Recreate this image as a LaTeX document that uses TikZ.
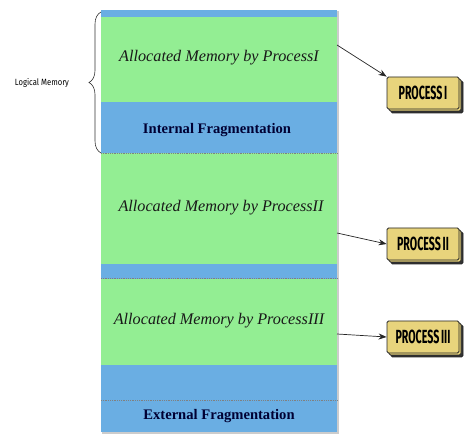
\documentclass[tikz,border=0pt]{standalone}
\usepackage{fontspec}
\setmainfont{Liberation Serif}
\newfontfamily\procfont{Fira Sans}
\newfontfamily\labfont{Fira Sans}
\usetikzlibrary{decorations.pathreplacing,arrows.meta}
\definecolor{memgreen}{HTML}{93EE93}
\definecolor{memblue}{HTML}{6AAEE3}
\definecolor{procfill}{HTML}{E8D47C}
\tikzset{
  alloc/.style={font=\itshape\fontsize{16.2}{19}\selectfont, text=black!90},
  frag/.style={font=\bfseries\fontsize{14.6}{17}\selectfont, text=black!80!blue},
  sep/.style={densely dotted, draw=black!50, line width=0.8pt},
  procbox/.style={draw=black!85, line width=0.8pt, fill=procfill, rounded corners=1.5pt,
     minimum width=72pt, minimum height=32pt, inner sep=0pt},
  procback/.style={draw=black!85, line width=0.8pt, fill=procfill, rounded corners=1.5pt,
     minimum width=72pt, minimum height=32pt},
  arr/.style={-{Stealth[length=8pt,width=6pt]}, line width=0.7pt, draw=black!85}
}
\newcommand{\proclabel}[1]{\scalebox{0.56}[1]{\procfont\bfseries\fontsize{19}{21}\selectfont #1}}
\begin{document}
\begin{tikzpicture}[x=1pt,y=-1pt]
\useasboundingbox (0,0) rectangle (474,446);
\fill[white] (0,0) rectangle (474,446);
% shadow
\fill[black!20] (102,11) rectangle (338.5,433.5);
% column
\fill[memblue] (101,10) rectangle (337,17);
\fill[memgreen] (101,17) rectangle (337,102);
\fill[memblue] (101,102) rectangle (337,153);
\fill[memgreen] (101,153) rectangle (337,264);
\fill[memblue] (101,264) rectangle (337,279);
\fill[memgreen] (101,279) rectangle (337,365);
\fill[memblue] (101,365) rectangle (337,432);
\coordinate (s1a) at (101,153); \coordinate (s1b) at (337,153);
\coordinate (s2a) at (101,278); \coordinate (s2b) at (337,278);
\coordinate (s3a) at (101,400); \coordinate (s3b) at (337,400);
\draw[sep] (s1a) -- (s1b);
\draw[sep] (s2a) -- (s2b);
\draw[sep] (s3a) -- (s3b);
% texts
\node[alloc] (a1) at (219,58) {Allocated Memory by ProcessI};
\node[frag] (f1) at (217,130) {Internal Fragmentation};
\node[alloc] (a2) at (221,208) {Allocated Memory by ProcessII};
\node[alloc] (a3) at (219,321) {Allocated Memory by ProcessIII};
\node[frag] (f2) at (219,416) {External Fragmentation};
% brace
\coordinate (bt) at (101,12);
\coordinate (bb) at (101,153);
\draw[line width=0.6pt, draw=black!80, decorate, decoration={brace, amplitude=12pt, aspect=0.5}]
  (bb) -- (bt);
\node[font=\labfont\fontsize{9}{11}\selectfont] (lm) at (42,83) {\scalebox{0.85}[1]{Logical Memory}};
% process boxes
\foreach \n/\yy/\lbl in {p1/93/PROCESS\,I, p2/244/PROCESS\,II, p3/337/PROCESS\,III}{
  \node[procback, fill=black!80] at (427,\yy+4) {};
  \node[procback] at (425,\yy+2) {};
  \node[procbox] (\n) at (423,\yy) {\proclabel{\lbl}};
}
\coordinate (e1) at (337,45);
\coordinate (e2) at (337,233);
\coordinate (e3) at (337,334);
\draw[arr] (e1) -- (p1.north west);
\draw[arr] (e2) -- (p2.west);
\draw[arr] (e3) -- (p3.west);
\end{tikzpicture}
\end{document}
